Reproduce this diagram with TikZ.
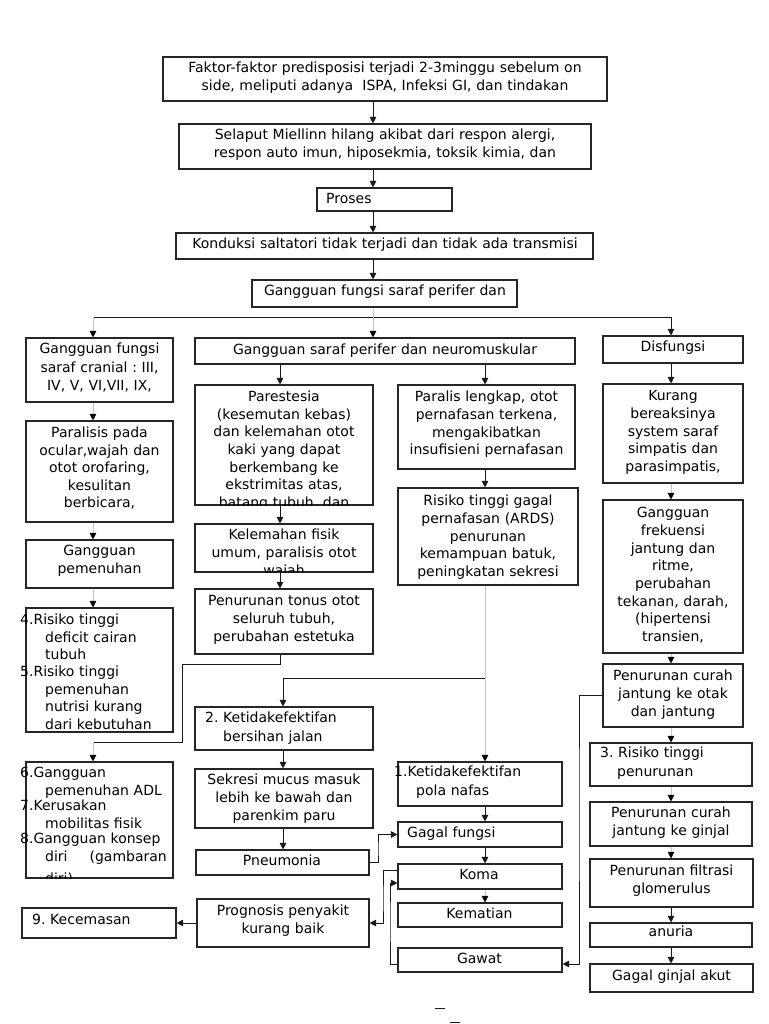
\documentclass[tikz,border=0pt]{standalone}
\usepackage{fontspec}
\setmainfont{DejaVu Sans}
\usetikzlibrary{arrows.meta,fit}
\frenchspacing
\tikzset{
 boxst/.style={draw=black!85, line width=1.1pt, inner sep=0pt, rectangle},
 txt/.style={inner sep=0pt, text width=480pt, font=\fontsize{14}{17.7}\selectfont},
 C/.style={align=center,anchor=north},
 Lf/.style={align=left,anchor=north west},
 arr/.style={line width=0.9pt, black!90, -{Triangle[length=6.5pt,width=6.5pt]}},
 garr/.style={line width=0.9pt, gray!45, -{Triangle[length=6.5pt,width=6.5pt,color=black]}},
 gln/.style={line width=0.9pt, gray!45},
 ln/.style={line width=0.9pt, black!90},
}
\newcommand\bx[9]{%
 \node[boxst, fit={(#2,#3) (#4,#5)}] (#1) {};
 \begin{scope}
 \clip (#2-40,#3) rectangle (#4+40,#5);
 \node[txt,#6] at (#7,#8-11) {\frenchspacing\hyphenpenalty=10000\rule{0pt}{11pt}#9};
 \end{scope}}
\begin{document}
\begin{tikzpicture}[x=1pt,y=-1pt]
\path[fill=white] (0,0) rectangle (768,1024);
\useasboundingbox (0,0) rectangle (768,1024);
% top chain
\bx{top}{163}{57}{607}{101}{C,font=\fontsize{14}{18}\selectfont}{385}{72.5}{Faktor-faktor predisposisi terjadi 2-3minggu sebelum on\\side, meliputi adanya~ ISPA, Infeksi GI, dan tindakan}
\bx{b2}{179}{124}{591}{169}{C,font=\fontsize{14}{17.5}\selectfont}{385}{139.5}{Selaput Miellinn hilang akibat dari respon alergi,\\respon auto imun, hiposekmia, toksik kimia, dan}
\bx{pro}{317}{188}{452}{211}{Lf}{326}{203.5}{Proses}
\bx{kond}{176}{233}{593}{259}{C}{385}{248.5}{Konduksi saltatori tidak terjadi dan tidak ada transmisi}
\bx{b5}{252}{280}{517}{307}{C}{385}{295.5}{Gangguan fungsi saraf perifer dan}
% left column
\bx{L1}{26}{338}{173}{402}{C,font=\fontsize{14}{18.5}\selectfont}{99.5}{353.5}{Gangguan fungsi\\saraf cranial : III,\\IV, V, VI,VII, IX,}
\bx{L2}{26}{421}{173}{522}{C,font=\fontsize{14}{17.5}\selectfont}{99.5}{437.5}{Paralisis pada\\ocular,wajah dan\\otot orofaring,\\kesulitan\\berbicara,}
\bx{L3}{26}{540}{173}{588}{C}{99.5}{555.5}{Gangguan\\pemenuhan}
\bx{L4}{26}{608}{173}{732}{Lf,font=\fontsize{14}{17.4}\selectfont}{20}{624.5}{4.Risiko tinggi\\\hspace*{25pt}deficit cairan\\\hspace*{25pt}tubuh\\5.Risiko tinggi\\\hspace*{25pt}pemenuhan\\\hspace*{25pt}nutrisi kurang\\\hspace*{25pt}dari kebutuhan}
\bx{L5}{26}{762}{173}{878}{Lf,font=\fontsize{14}{18}\selectfont}{20}{777.5}{6.Gangguan\\\hspace*{25pt}pemenuhan ADL\\[-3pt]7.Kerusakan\\\hspace*{25pt}mobilitas fisik\\[-3pt]8.Gangguan konsep\\\hspace*{25pt}diri\hspace{22pt}(gambaran\\[4pt]\hspace*{25pt}diri)}
\bx{L6}{22}{908}{176}{938}{Lf}{32}{924.5}{9. Kecemasan}
% middle column
\bx{M0}{195}{338}{575}{364}{C}{385}{354.5}{Gangguan saraf perifer dan neuromuskular}
\bx{M1}{195}{385}{373}{505}{C,font=\fontsize{14}{17.6}\selectfont}{284}{401.5}{Parestesia\\(kesemutan kebas)\\dan kelemahan otot\\kaki yang dapat\\berkembang ke\\ekstrimitas atas,\\batang tubuh, dan}
\bx{M3}{195}{524}{373}{572}{C}{284}{539.5}{Kelemahan fisik\\umum, paralisis otot\\wajah}
\bx{M4}{195}{589}{373}{654}{C}{284}{605.5}{Penurunan tonus otot\\seluruh tubuh,\\perubahan estetuka}
\bx{M2}{398}{385}{575}{469}{C}{486.5}{401.5}{Paralis lengkap, otot\\pernafasan terkena,\\mengakibatkan\\insufisieni pernafasan}
\bx{M5}{398}{488}{578}{585}{C}{488}{505.5}{Risiko tinggi gagal\\pernafasan (ARDS)\\penurunan\\kemampuan batuk,\\peningkatan sekresi}
\bx{M6}{195}{707}{373}{750}{Lf,font=\fontsize{14}{19}\selectfont}{205}{722.5}{2. Ketidakefektifan\\\hspace*{18pt}bersihan jalan}
\bx{M7}{195}{769}{373}{828}{C}{284}{784.5}{Sekresi mucus masuk\\lebih ke bawah dan\\parenkim paru}
\bx{M8}{196}{850}{369}{875}{C}{282}{865.5}{Pneumonia}
\bx{M9}{197}{899}{369}{947}{C}{283}{915.5}{Prognosis penyakit\\kurang baik}
% N column
\bx{N1}{398}{762}{562}{806}{Lf,font=\fontsize{14}{19}\selectfont}{394}{776.5}{1.Ketidakefektifan\\\hspace*{22pt}pola nafas}
\bx{N2}{398}{822}{562}{847}{Lf}{407}{837.5}{Gagal fungsi}
\bx{N3}{398}{864}{562}{889}{C}{479}{879.5}{Koma}
\bx{N4}{398}{903}{562}{927}{C}{479.5}{918.5}{Kematian}
\bx{N5}{398}{948}{562}{972}{C}{479.5}{963.5}{Gawat}
% right column
\bx{R1}{603}{336}{743}{363}{C}{673}{351.5}{Disfungsi}
\bx{R2}{603}{384}{743}{483}{C}{673}{400.5}{Kurang\\bereaksinya\\system saraf\\simpatis dan\\parasimpatis,}
\bx{R3}{603}{500}{743}{653}{C}{673}{517.5}{Gangguan\\frekuensi\\jantung dan\\ritme,\\perubahan\\tekanan, darah,\\(hipertensi\\transien,}
\bx{R4}{603}{664}{743}{727}{C}{673}{680.5}{Penurunan curah\\jantung ke otak\\dan jantung}
\bx{R5}{590}{743}{752}{786}{Lf,font=\fontsize{14}{19}\selectfont}{600}{757.5}{3. Risiko tinggi\\\hspace*{17pt}penurunan}
\bx{R6}{590}{802}{752}{846}{C}{671}{817.5}{Penurunan curah\\jantung ke ginjal}
\bx{R7}{590}{859}{753}{907}{C}{671.5}{875.5}{Penurunan filtrasi\\glomerulus}
\bx{R8}{590}{923}{752}{947}{C}{671}{936.5}{anuria}
\bx{R9}{590}{964}{753}{992}{C}{671.5}{980.5}{Gagal ginjal akut}
% alignment coordinates
\coordinate (cx) at (373,0);
\coordinate (lx) at (93,0);
\coordinate (rx) at (671,0);
\coordinate (ma) at (280,0);
\coordinate (mb) at (283,0);
\coordinate (nx) at (485,0);
\coordinate (hy) at (0,317);
% top chain connectors
\draw[arr] (top.south -| cx) -- (b2.north -| cx);
\draw[arr] (b2.south -| cx) -- (pro.north -| cx);
\draw[arr] (pro.south -| cx) -- (kond.north -| cx);
\draw[arr] (kond.south -| cx) -- (b5.north -| cx);
\draw[gln] (b5.south -| cx) -- (cx |- hy);
\draw[ln] (lx |- hy) -- (rx |- hy);
\draw[garr] (lx |- hy) -- (L1.north -| lx);
\draw[garr] (cx |- hy) -- (M0.north -| cx);
\draw[arr] (rx |- hy) -- (R1.north -| rx);
% left chain
\draw[garr] (L1.south -| lx) -- (L2.north -| lx);
\draw[garr] (L2.south -| lx) -- (L3.north -| lx);
\draw[garr] (L3.south -| lx) -- (L4.north -| lx);
\coordinate (j1) at (182,664);
\coordinate (j2) at (182,742);
\draw[ln] (M4.south -| ma) |- (j1) -- (j2) -- (j2 -| lx);
\draw[garr] (j2 -| lx) -- (L5.north -| lx);
% middle connectors
\draw[arr] (M0.south -| ma) -- (M1.north -| ma);
\draw[arr] (M0.south -| nx) -- (M2.north -| nx);
\draw[arr] (M1.south -| ma) -- (M3.north -| ma);
\draw[arr] (M3.south -| ma) -- (M4.north -| ma);
\draw[arr] (M2.south -| nx) -- (M5.north -| nx);
\draw[garr] (M5.south -| nx) -- (N1.north -| nx);
\coordinate (j3) at (485,678);
\draw[arr] (j3) -| (M6.north -| mb);
\draw[arr] (M6.south -| mb) -- (M7.north -| mb);
\draw[arr] (M7.south -| mb) -- (M8.north -| mb);
\coordinate (j4) at (378,850);
\draw[arr] (M8.east) -| (j4) |- (N2.west);
\draw[arr] (N1.south -| nx) -- (N2.north -| nx);
\draw[arr] (N2.south -| nx) -- (N3.north -| nx);
\draw[garr] (N3.south -| nx) -- (N4.north -| nx);
\coordinate (j5) at (383,900);
\draw[arr] ([yshift=6.5pt]N3.west) -| (j5) |- (M9.east);
\coordinate (j6) at (390,920);
\draw[arr] ([yshift=-4pt]N5.west) -| (j6) |- ([yshift=-6.5pt]N3.west);
\draw[arr] (M9.west) -- (L6.east |- M9.west);
% right chain
\draw[arr] (R1.south -| rx) -- (R2.north -| rx);
\draw[garr] (R2.south -| rx) -- (R3.north -| rx);
\draw[garr] (R3.south -| rx) -- (R4.north -| rx);
\draw[garr] (R4.south -| rx) -- (R5.north -| rx);
\draw[garr] (R5.south -| rx) -- (R6.north -| rx);
\draw[garr] (R6.south -| rx) -- (R7.north -| rx);
\draw[arr] (R7.south -| rx) -- (R8.north -| rx);
\draw[arr] (R8.south -| rx) -- (R9.north -| rx);
\coordinate (j7) at (579,800);
\draw[arr] (R4.west) -| (j7) |- ([yshift=-4pt]N5.east);
% stray marks
\draw[ln] (435,1008) -- (445,1008);
\draw[ln] (450,1022) -- (460,1022);
\end{tikzpicture}
\end{document}
